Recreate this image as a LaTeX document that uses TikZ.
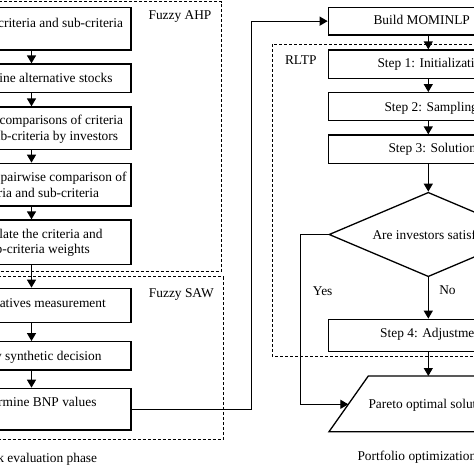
\documentclass[tikz,border=0pt]{standalone}
\usepackage{fontspec}
\setmainfont{Liberation Serif}
\usetikzlibrary{arrows.meta,shapes.geometric,calc}
\newcommand{\fs}{\fontsize{13.4}{16}\selectfont}
\begin{document}
\begin{tikzpicture}[x=1pt,y=-1pt,
  box/.style={draw, line width=1.3pt, rectangle, inner sep=0pt},
  dbox/.style={draw, line width=0.8pt, dash pattern=on 3pt off 2pt},
  arr/.style={-{Triangle[length=8pt,width=9pt]}, line width=1.3pt},
  ln/.style={line width=1.3pt},
  txt/.style={font=\fs, inner sep=0pt, anchor=base},
  lt/.style={txt, anchor=base east},
  rt/.style={txt, anchor=base west}]
\path[use as bounding box, clip] (0,0) rectangle (474,474);
\fill[white] (0,0) rectangle (474,474);
% dashed groups
\draw[dbox] (-80,1.7) rectangle (221.7,271);
\draw[dbox] (-80,276.7) rectangle (223.3,439);
\draw[dbox] (272.3,44) rectangle (560,356);
\node[txt] (ahp) at (180,19.5) {Fuzzy AHP};
\node[txt] (saw) at (181.3,297.2) {Fuzzy SAW};
\node[txt] (rltp) at (300.8,64.5) {RLTP};
% left column boxes
\node[box, minimum width=199pt, minimum height=42.7pt] (b1) at (31.5,28.65) {};
\node[box, minimum width=199pt, minimum height=28.7pt] (b2) at (31.5,78.35) {};
\node[box, minimum width=199pt, minimum height=42.3pt] (b3) at (31.5,128.15) {};
\node[box, minimum width=199pt, minimum height=42.7pt] (b4) at (31.5,184.65) {};
\node[box, minimum width=199pt, minimum height=44.3pt] (b5) at (31.5,242.15) {};
\node[box, minimum width=199pt, minimum height=34pt] (b6) at (31.5,305.3) {};
\node[box, minimum width=199pt, minimum height=28.3pt] (b7) at (31.5,355.85) {};
\node[box, minimum width=199pt, minimum height=41.7pt] (b8) at (31.5,409.15) {};
\node[lt] (t1) at (123.3,27.2) {Determine criteria and sub-criteria};
\node[lt] (t2) at (112.7,82.8) {Determine alternative stocks};
\node[lt] (t3a) at (123.3,124.5) {Pairwise comparisons of criteria};
\node[lt] (t3b) at (118.3,140.2) {and sub-criteria by investors};
\node[lt] (t4a) at (126.7,181.2) {Aggregate pairwise comparison of};
\node[lt] (t4b) at (99.3,197.2) {criteria and sub-criteria};
\node[lt] (t5a) at (102.7,238.5) {Calculate the criteria and};
\node[lt] (t5b) at (90,253.5) {sub-criteria weights};
\node[lt] (t6) at (106,307.2) {Alternatives measurement};
\node[lt] (t7) at (101.7,360.5) {Fuzzy synthetic decision};
\node[lt] (t8) at (96.7,406.8) {Determine BNP values};
\node[lt] (t9) at (97.3,462.5) {Stock evaluation phase};
\draw[arr] (b1) -- (b2);
\draw[arr] (b2) -- (b3);
\draw[arr] (b3) -- (b4);
\draw[arr] (b4) -- (b5);
\draw[arr] (b5) -- (b6);
\draw[arr] (b6) -- (b7);
\draw[arr] (b7) -- (b8);
% right column
\node[box, minimum width=200pt, minimum height=27.7pt] (build) at (428.3,21.15) {};
\node[box, minimum width=200pt, minimum height=28.3pt] (s1) at (428.3,64.15) {};
\node[box, minimum width=200pt, minimum height=28pt] (s2) at (428.3,106.7) {};
\node[box, minimum width=200pt, minimum height=28.3pt] (s3) at (428.3,149.15) {};
\node[draw, line width=1.3pt, diamond, inner sep=0pt, aspect=2.35, minimum width=198.6pt, minimum height=84.4pt] (dia) at (428.3,234.5) {};
\node[box, minimum width=200pt, minimum height=32.4pt] (s4) at (428.3,335.5) {};
\coordinate (ptl) at (368.3,376);
\coordinate (pbl) at (329,431.7);
\coordinate (ptr) at (567.6,376);
\coordinate (pbr) at (528.3,431.7);
\draw[ln] (pbl) -- (ptl) -- (ptr) -- (pbr) -- cycle;
\coordinate (ptop) at (428.3,376);
\coordinate (pe) at ($(pbl)!0.492!(ptl)$);
\node[rt] (r0) at (373.3,24.5) {Build MOMINLP};
\node[rt] (r1) at (377.3,67.8) {Step 1: Initialization};
\node[rt] (r2) at (384.3,111.2) {Step 2: Sampling};
\node[rt] (r3) at (388.3,152.8) {Step 3: Solution};
\node[rt] (rd) at (372.3,239.5) {Are investors satisfied?};
\node[rt] (r4) at (380,337.8) {Step 4: Adjustment};
\node[rt] (rp) at (368.3,408.8) {Pareto optimal solution};
\node[rt] (rl) at (357.3,460.5) {Portfolio optimization phase};
\node[txt] (yes) at (322.7,295.2) {Yes};
\node[txt] (no) at (447.5,294.5) {No};
\draw[arr] (build) -- (s1);
\draw[arr] (s1) -- (s2);
\draw[arr] (s2) -- (s3);
\draw[arr] (s3) -- (dia);
\draw[arr] (dia) -- (s4);
\draw[arr] (s4) -- (ptop);
% connectors between phases
\coordinate (bx) at (251.3,0);
\draw[arr] (b8.east) -- (b8.east -| bx) -- (bx |- build.west) -- (build.west);
\coordinate (yx) at (300.7,0);
\draw[arr] (dia.west) -- (dia.west -| yx) -- (yx |- pe) -- (pe);
\end{tikzpicture}
\end{document}
